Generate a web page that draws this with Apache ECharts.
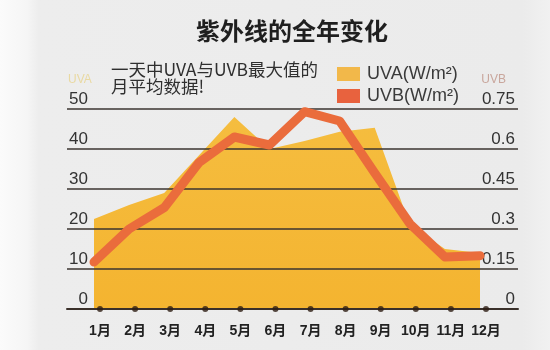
<!DOCTYPE html>
<html>
<head>
<meta charset="utf-8">
<script src="https://cdn.jsdelivr.net/npm/echarts@6/dist/echarts.min.js"></script>
<style>
  html, body { margin: 0; padding: 0; }
  #chart { width: 550px; height: 350px; }
</style>
</head>
<body>
<div id="chart"></div>
<script>
// 月份
const months = ['1月', '2月', '3月', '4月', '5月', '6月', '7月', '8月', '9月', '10月', '11月', '12月'];
// UVA 月平均最大值 (W/m²)，左轴
const uvaValues = [22.5, 26, 29, 38.5, 48, 40, 42, 44.3, 45.3, 21, 15, 14];
// UVB 月平均最大值 (W/m²)，右轴
const uvbValues = [0.176, 0.30, 0.38, 0.55, 0.645, 0.615, 0.74, 0.705, 0.51, 0.32, 0.195, 0.2];
// 刻度
const uvaTicks = [0, 10, 20, 30, 40, 50];
const uvbTicks = [0, 0.15, 0.3, 0.45, 0.6, 0.75];

const chart = echarts.init(document.getElementById('chart'));

// 月份刻度点比数据点略偏右
const tickShift = 0.171;
const tickPos = months.map((m, i) => i + tickShift);

const font = '"Liberation Sans", "Noto Sans CJK SC", sans-serif';

const option = {
  backgroundColor: new echarts.graphic.LinearGradient(0, 0, 1, 0, [
    {offset: 0, color: '#fbfbfb'},
    {offset: 0.05, color: '#f5f5f5'},
    {offset: 0.07, color: '#ededed'},
    {offset: 0.95, color: '#ebebeb'},
    {offset: 1, color: '#f1f1f1'}
  ]),
  animation: false,
  title: [{
    text: '紫外线的全年变化',
    left: 292,
    top: 19,
    padding: 0,
    textAlign: 'center',
    textStyle: {
      fontFamily: '"Noto Sans CJK SC", sans-serif',
      fontSize: 24,
      fontWeight: 'bold',
      color: '#1f1f1f'
    }
  }, {
    text: '一天中UVA与UVB最大值的\n月平均数据!',
    left: 111,
    top: 61,
    padding: 0,
    textStyle: {
      fontFamily: '"Noto Sans CJK SC", sans-serif',
      fontSize: 17.5,
      fontWeight: 'normal',
      lineHeight: 17,
      color: '#2f2f2f'
    }
  }, {
    // 左轴名称
    text: 'UVA',
    left: 68,
    top: 74,
    padding: 0,
    textStyle: {fontFamily: font, fontSize: 12, fontWeight: 'normal', color: '#e9d9a2'}
  }, {
    // 右轴名称
    text: 'UVB',
    left: 506,
    top: 74,
    padding: 0,
    textAlign: 'right',
    textStyle: {fontFamily: font, fontSize: 12, fontWeight: 'normal', color: '#c9a69c'}
  }],
  legend: {
    orient: 'vertical',
    left: 337,
    top: 65,
    padding: 0,
    itemWidth: 23,
    itemHeight: 14,
    itemGap: 4,
    icon: 'rect',
    data: ['UVA(W/m²)', 'UVB(W/m²)'],
    textStyle: {
      fontFamily: font,
      fontSize: 18,
      lineHeight: 18,
      color: '#3a3a3a',
      padding: [0, 0, 0, 2]
    }
  },
  grid: {
    left: 67,
    right: 32,
    top: 109,
    bottom: 41
  },
  xAxis: {
    type: 'value',
    min: -0.7695,
    max: 12.083,
    z: 3,
    splitLine: {show: false},
    axisTick: {show: false},
    axisLine: {
      show: true,
      onZero: false,
      lineStyle: {color: '#3a302a', width: 2}
    },
    axisLabel: {
      customValues: tickPos,
      margin: 15,
      fontFamily: font,
      fontSize: 14,
      fontWeight: 'bold',
      color: '#222',
      formatter: v => months[Math.round(v - tickShift)]
    }
  },
  yAxis: [{
    type: 'value',
    min: uvaTicks[0],
    max: uvaTicks[uvaTicks.length - 1],
    interval: 10,
    z: 2,
    axisLine: {show: false},
    axisTick: {show: false},
    axisLabel: {
      inside: true,
      align: 'right',
      verticalAlign: 'bottom',
      margin: 21,
      padding: [0, 0, 1, 0],
      fontFamily: font,
      fontSize: 17,
      color: '#333',
      formatter: v => (uvaTicks.includes(v) ? String(v) : '')
    },
    splitLine: {
      show: true,
      lineStyle: {color: '#3b3430', width: 1.5}
    }
  }, {
    type: 'value',
    min: uvbTicks[0],
    max: uvbTicks[uvbTicks.length - 1],
    interval: 0.15,
    position: 'right',
    axisLine: {show: false},
    axisTick: {show: false},
    splitLine: {show: false},
    axisLabel: {
      inside: true,
      align: 'right',
      verticalAlign: 'bottom',
      margin: 3,
      padding: [0, 0, 1, 0],
      fontFamily: font,
      fontSize: 17,
      color: '#333',
      formatter: v => {
        const t = uvbTicks.find(x => Math.abs(x - v) < 1e-6);
        return t === undefined ? '' : String(t);
      }
    }
  }],
  series: [{
    // UVA 面积
    name: 'UVA(W/m²)',
    type: 'line',
    yAxisIndex: 0,
    z: 1,
    symbol: 'none',
    data: uvaValues.map((v, i) => [i, v]),
    itemStyle: {color: '#f2b84a'},
    lineStyle: {width: 0, color: '#f4b534'},
    areaStyle: {
      color: new echarts.graphic.LinearGradient(0, 0, 0, 1, [
        {offset: 0, color: '#f5bd3f'},
        {offset: 1, color: '#f4b430'}
      ]),
      opacity: 1
    }
  }, {
    // UVB 折线
    name: 'UVB(W/m²)',
    type: 'line',
    yAxisIndex: 1,
    z: 4,
    symbol: 'none',
    data: uvbValues.map((v, i) => [i, v]),
    itemStyle: {color: '#e8623e'},
    lineStyle: {width: 9, color: '#ea6c3c', join: 'round', cap: 'round'}
  }, {
    // 月份刻度圆点
    type: 'scatter',
    yAxisIndex: 0,
    z: 5,
    silent: true,
    clip: false,
    symbol: 'circle',
    symbolSize: 6,
    itemStyle: {color: '#2e1e14'},
    data: tickPos.map(x => [x, 0])
  }]
};

chart.setOption(option);
</script>
</body>
</html>
